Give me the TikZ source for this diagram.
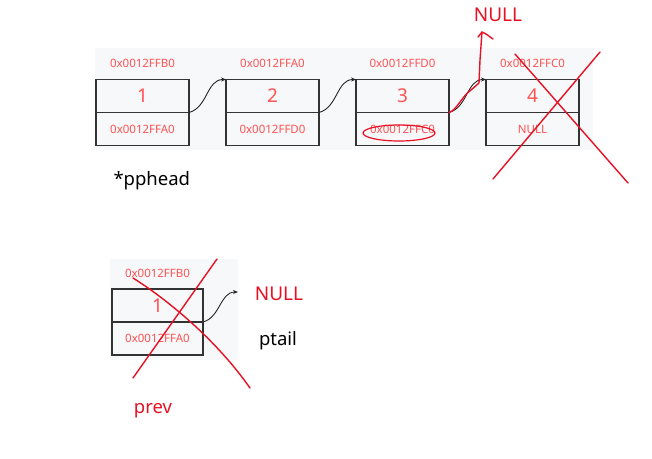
\documentclass[tikz,border=0pt]{standalone}
\usepackage{fontspec}
\setmainfont{Noto Sans}
\usetikzlibrary{positioning,arrows.meta}

\definecolor{panelgray}{RGB}{247,248,250}
\definecolor{addrred}{RGB}{255,82,82}
\definecolor{penred}{RGB}{232,17,35}

\tikzset{
  cell/.style={draw=black!80, line width=1.1pt, minimum width=93pt, minimum height=33pt, inner sep=0pt, outer sep=0pt},
  numtext/.style={text=addrred, font=\fontsize{19}{21}\selectfont},
  addrtext/.style={text=addrred, font=\fontsize{11.5}{13}\selectfont},
  link/.style={black!85, line width=0.9pt, -{Stealth[length=5pt,width=4pt]}},
  redpen/.style={penred, line width=1.4pt, line cap=round, line join=round},
}

\begin{document}
\begin{tikzpicture}[x=1pt, y=-1pt]
    \useasboundingbox (0,0) rectangle (652,458);
    % grey panels behind the lists
    \fill[panelgray] (95,48) rectangle (593,150);
    \fill[panelgray] (110,259) rectangle (238,360);

    % the list
    \node[cell, numtext] (d1) at (142.5,96) {1};
    \node[cell, addrtext, below=0pt of d1] (p1) {0x0012FFA0};
    \node[cell, numtext, right=37pt of d1] (d2) {2};
    \node[cell, addrtext, below=0pt of d2] (p2) {0x0012FFD0};
    \node[cell, numtext, right=37pt of d2] (d3) {3};
    \node[cell, addrtext, below=0pt of d3] (p3) {0x0012FFC0};
    \node[cell, numtext, right=37pt of d3] (d4) {4};
    \node[cell, addrtext, below=0pt of d4] (p4) {NULL};

    \node[addrtext, above=8pt of d1] (a1) {0x0012FFB0};
    \node[addrtext, above=8pt of d2] (a2) {0x0012FFA0};
    \node[addrtext, above=8pt of d3] (a3) {0x0012FFD0};
    \node[addrtext, above=8pt of d4] (a4) {0x0012FFC0};

    \draw[link] (d1.south east) to[out=15, in=180] (d2.north west);
    \draw[link] (d2.south east) to[out=15, in=180] (d3.north west);
    \draw[link] (d3.south east) to[out=15, in=180] (d4.north west);

    \node[font=\fontsize{18.5}{21}\selectfont, anchor=west] (pphead) at (110,181) {*pphead};

    % red pen marks, top
    \node[text=penred, font=\fontsize{19}{21}\selectfont] (null1) at (498,15) {NULL};
    \coordinate (nulltip) at (482,32);
    \draw[redpen] (d3.south east) .. controls (457,110) and (462,96) .. (471,90)
        -- (479,83) -- (480,60) -- (nulltip);
    \draw[redpen] (478,37) -- (nulltip) -- (486,34) -- (493,39);
    \draw[redpen, line width=1.2pt] (399,133) ellipse [x radius=36pt, y radius=8pt];
    \draw[redpen] (515,54) -- (628,183);
    \draw[redpen] (600,52) -- (493,179);

    % the single node
    \node[cell, numtext, minimum width=91pt] (d5) at (157.5,305.5) {1};
    \node[cell, addrtext, minimum width=91pt, below=0pt of d5] (p5) {0x0012FFA0};
    \node[addrtext, above=8pt of d5] (a5) {0x0012FFB0};
    \coordinate (tail) at (238,292);
    \draw[link] (d5.south east) to[out=15, in=180] (tail);

    \node[text=penred, font=\fontsize{19}{21}\selectfont] (null2) at (279,294) {NULL};
    \node[font=\fontsize{18.5}{21}\selectfont] (ptail) at (278,341) {ptail};
    \node[text=penred, font=\fontsize{18.5}{21}\selectfont] (prev) at (153,411) {prev};

    % red pen marks, bottom
    \draw[redpen] (217,259) -- (133,378);
    \draw[redpen] (133,278) .. controls (165,298) and (215,338) .. (250,388);
\end{tikzpicture}
\end{document}
